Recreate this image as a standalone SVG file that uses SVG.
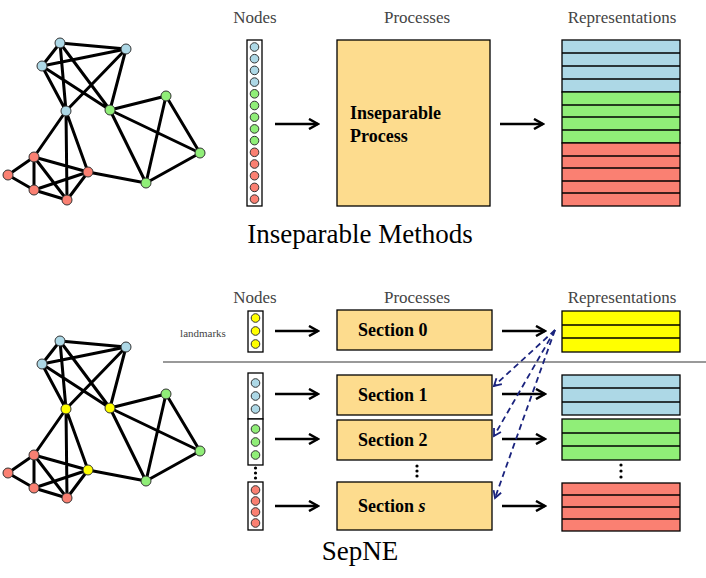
<svg xmlns="http://www.w3.org/2000/svg" width="706" height="578" viewBox="0 0 706 578">
<style>
.e{stroke:#000;stroke-width:3}
.n{stroke:#333;stroke-width:1}
.b{fill:#add8e6}.g{fill:#90ee78}.r{fill:#fa8072}.y{fill:#ffff00}
.hd{font-family:"Liberation Serif",serif;font-size:17px;fill:#444;text-anchor:middle}
.box{fill:#fddc8e;stroke:#000;stroke-width:1.3}
.sec{font-family:"Liberation Serif",serif;font-size:18px;font-weight:bold}
.col{fill:#fff;stroke:#000;stroke-width:1.3}
.row{stroke:#000;stroke-width:1.3}
.ar{stroke:#000;stroke-width:2.5;fill:none;marker-end:url(#ah)}
.da{stroke:#1a237e;stroke-width:1.8;fill:none;stroke-dasharray:6 4;marker-end:url(#dh)}
</style>
<defs>
<marker id="ah" markerWidth="12" markerHeight="12" refX="10" refY="6" orient="auto" markerUnits="userSpaceOnUse"><path d="M1,1 L10,6 L1,11" fill="none" stroke="#000" stroke-width="2.5"/></marker>
<marker id="dh" markerWidth="10" markerHeight="10" refX="8" refY="5" orient="auto" markerUnits="userSpaceOnUse"><path d="M1,1 L8,5 L1,9" fill="none" stroke="#1a237e" stroke-width="1.8"/></marker>
<g id="edges">
<path class="e" d="M60,43L126,49M60,43L42,66M42,66L126,49M60,43L66,111M60,43L110,110M42,66L66,111M42,66L110,110M126,49L66,111M126,49L110,110M110,110L166,96M110,110L146,183M110,110L200,153M166,96L146,183M166,96L200,153M200,153L146,183M66,111L34,157M66,111L67,200M66,111L88,172M34,157L88,172M34,157L8,175M34,157L34,190M34,157L67,200M8,175L34,190M34,190L88,172M34,190L67,200M88,172L67,200M88,172L146,183"/>
</g>
</defs>
<g id="graph-top">
<use href="#edges"/>
<g class="n">
<circle class="b" cx="60" cy="43" r="5"/><circle class="b" cx="126" cy="49" r="5"/><circle class="b" cx="42" cy="66" r="5"/><circle class="b" cx="66" cy="111" r="5"/>
<circle class="g" cx="110" cy="110" r="5"/><circle class="g" cx="166" cy="96" r="5"/><circle class="g" cx="200" cy="153" r="5"/><circle class="g" cx="146" cy="183" r="5"/>
<circle class="r" cx="34" cy="157" r="5"/><circle class="r" cx="88" cy="172" r="5"/><circle class="r" cx="8" cy="175" r="5"/><circle class="r" cx="34" cy="190" r="5"/><circle class="r" cx="67" cy="200" r="5"/>
</g>
</g>
<g id="graph-bottom" transform="translate(0,298)">
<use href="#edges"/>
<g class="n">
<circle class="b" cx="60" cy="43" r="5"/><circle class="b" cx="126" cy="49" r="5"/><circle class="b" cx="42" cy="66" r="5"/><circle class="y" cx="66" cy="111" r="5"/>
<circle class="y" cx="110" cy="110" r="5"/><circle class="g" cx="166" cy="96" r="5"/><circle class="g" cx="200" cy="153" r="5"/><circle class="g" cx="146" cy="183" r="5"/>
<circle class="r" cx="34" cy="157" r="5"/><circle class="y" cx="88" cy="172" r="5"/><circle class="r" cx="8" cy="175" r="5"/><circle class="r" cx="34" cy="190" r="5"/><circle class="r" cx="67" cy="200" r="5"/>
</g>
</g>
<g id="headers">
<text class="hd" x="255" y="23">Nodes</text><text class="hd" x="417" y="23">Processes</text><text class="hd" x="622" y="23">Representations</text>
<text class="hd" x="255" y="303">Nodes</text><text class="hd" x="417" y="303">Processes</text><text class="hd" x="622" y="303">Representations</text>
<text x="360" y="243" font-family="Liberation Serif,serif" font-size="27" text-anchor="middle">Inseparable Methods</text>
<text x="360" y="560" font-family="Liberation Serif,serif" font-size="27" text-anchor="middle">SepNE</text>
<text x="203" y="337" font-family="Liberation Serif,serif" font-size="11" fill="#444" text-anchor="middle">landmarks</text>
</g>
<g id="nodes-top">
<rect class="col" x="247" y="40" width="15" height="166"/>
<g class="n">
<circle class="b" cx="254.5" cy="47" r="4.3"/><circle class="b" cx="254.5" cy="58.7" r="4.3"/><circle class="b" cx="254.5" cy="70.4" r="4.3"/><circle class="b" cx="254.5" cy="82.1" r="4.3"/>
<circle class="g" cx="254.5" cy="93.8" r="4.3"/><circle class="g" cx="254.5" cy="105.5" r="4.3"/><circle class="g" cx="254.5" cy="117.2" r="4.3"/><circle class="g" cx="254.5" cy="128.9" r="4.3"/><circle class="g" cx="254.5" cy="140.6" r="4.3"/>
<circle class="r" cx="254.5" cy="152.3" r="4.3"/><circle class="r" cx="254.5" cy="164" r="4.3"/><circle class="r" cx="254.5" cy="175.7" r="4.3"/><circle class="r" cx="254.5" cy="187.4" r="4.3"/><circle class="r" cx="254.5" cy="199.1" r="4.3"/>
</g>
</g>
<g id="process-top">
<rect class="box" x="337" y="40" width="153" height="166"/>
<text class="sec" x="350" y="119">Inseparable</text><text class="sec" x="350" y="142">Process</text>
</g>
<g id="rep-top">
<rect class="b row" x="562" y="40" width="118" height="52"/><rect class="g row" x="562" y="92" width="118" height="51"/><rect class="r row" x="562" y="143" width="118" height="63"/>
<path class="row" d="M562,53H680M562,66H680M562,79H680M562,105H680M562,117H680M562,130H680M562,156H680M562,168H680M562,181H680M562,193H680"/>
</g>
<g id="nodes-bottom">
<rect class="col" x="248" y="311" width="15" height="41"/>
<rect class="col" x="248" y="373" width="15" height="46"/>
<rect class="col" x="248" y="419" width="15" height="46"/>
<rect class="col" x="248" y="482" width="15" height="48"/>
<g class="n">
<circle class="y" cx="255.5" cy="318" r="4.3"/><circle class="y" cx="255.5" cy="331" r="4.3"/><circle class="y" cx="255.5" cy="344" r="4.3"/>
<circle class="b" cx="255.5" cy="383" r="4.3"/><circle class="b" cx="255.5" cy="396" r="4.3"/><circle class="b" cx="255.5" cy="409" r="4.3"/>
<circle class="g" cx="255.5" cy="429" r="4.3"/><circle class="g" cx="255.5" cy="442" r="4.3"/><circle class="g" cx="255.5" cy="455" r="4.3"/>
<circle class="r" cx="255.5" cy="490" r="4.3"/><circle class="r" cx="255.5" cy="501" r="4.3"/><circle class="r" cx="255.5" cy="512" r="4.3"/><circle class="r" cx="255.5" cy="523" r="4.3"/>
</g>
<g fill="#000"><circle cx="255.5" cy="468" r="1.6"/><circle cx="255.5" cy="473" r="1.6"/><circle cx="255.5" cy="478" r="1.6"/></g>
</g>
<g id="sections">
<rect class="box" x="337" y="310" width="155" height="40"/><text class="sec" x="358" y="336">Section 0</text>
<rect class="box" x="337" y="375" width="155" height="40"/><text class="sec" x="358" y="401">Section 1</text>
<rect class="box" x="337" y="420" width="155" height="40"/><text class="sec" x="358" y="446">Section 2</text>
<rect class="box" x="337" y="482" width="155" height="48"/><text class="sec" x="358" y="512">Section <tspan font-style="italic">s</tspan></text>
<g fill="#000"><circle cx="417" cy="466" r="1.6"/><circle cx="417" cy="471" r="1.6"/><circle cx="417" cy="476" r="1.6"/></g>
</g>
<g id="reps-bottom">
<rect class="y row" x="562" y="311" width="118" height="41"/>
<rect class="b row" x="562" y="375" width="118" height="40"/>
<rect class="g row" x="562" y="419" width="118" height="41"/>
<rect class="r row" x="562" y="483" width="118" height="48"/>
<path class="row" d="M562,325H680M562,338H680M562,388H680M562,402H680M562,433H680M562,446H680M562,495H680M562,507H680M562,519H680"/>
<g fill="#000"><circle cx="621" cy="465" r="1.6"/><circle cx="621" cy="471" r="1.6"/><circle cx="621" cy="477" r="1.6"/></g>
</g>
<line x1="163" y1="362" x2="706" y2="362" stroke="#777" stroke-width="1.5"/>
<g id="connectors">
<path class="ar" d="M275,124H318"/><path class="ar" d="M500,124H543"/>
<path class="ar" d="M275,331H318"/><path class="ar" d="M502,331H545"/>
<path class="ar" d="M275,394H318"/><path class="ar" d="M502,394H545"/>
<path class="ar" d="M275,439H318"/><path class="ar" d="M502,439H545"/>
<path class="ar" d="M275,506H318"/><path class="ar" d="M502,506H545"/>
<path class="da" d="M555,330L494,386"/>
<path class="da" d="M555,330L494,436"/>
<path class="da" d="M555,330L495,498"/>
</g>
</svg>
